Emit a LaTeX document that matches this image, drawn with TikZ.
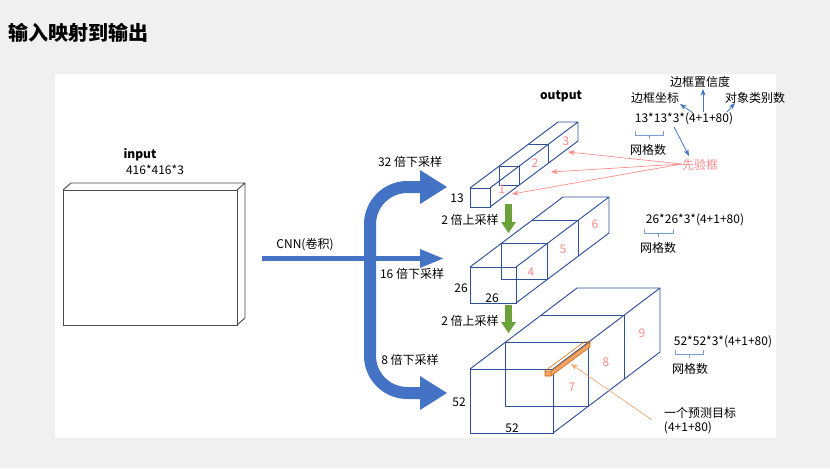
\documentclass[tikz,border=0pt]{standalone}
\usepackage{fontspec}
\setmainfont{Noto Sans CJK SC}
\usetikzlibrary{arrows.meta,calc}
\definecolor{bl}{HTML}{2F4F9A}
\definecolor{ab}{HTML}{4472C4}
\definecolor{pk}{HTML}{FF8A8A}
\definecolor{gr}{HTML}{6AA13A}
\definecolor{org}{HTML}{F4A46A}
\newcommand\mycub[6]{% x0 y0 x1 y1 dx dy
 \draw[box] (#1,#2) rectangle (#3,#4);
 \draw[box] (#1,#2) -- ++(#5,#6) -- ($(#3,#2)+(#5,#6)$) -- ($(#3,#4)+(#5,#6)$) -- (#3,#4) (#3,#2) -- ++(#5,#6);
 \draw[box] ($(#1,#2)+1/3*(#5,#6)$) -- ($(#3,#2)+1/3*(#5,#6)$) -- ($(#3,#4)+1/3*(#5,#6)$)
            ($(#1,#2)+2/3*(#5,#6)$) -- ($(#3,#2)+2/3*(#5,#6)$) -- ($(#3,#4)+2/3*(#5,#6)$);
 \draw[box] ($(#1,#2)+1/3*(#5,#6)$) -- ($(#1,#4)+1/3*(#5,#6)$) -- ($(#3,#4)+1/3*(#5,#6)$);
}
\begin{document}
\begin{tikzpicture}[x=0.75pt,y=-0.75pt,
  t/.style={font=\fontsize{9}{10}\selectfont,inner sep=0pt},
  num/.style={t,text=pk},
  box/.style={draw=bl,line width=0.7pt},
  ba/.style={-{Stealth[length=5pt]},ab,line width=0.6pt},
  pa/.style={-{Stealth[length=5pt]},pk,line width=0.5pt},
  br/.style={ab!70,line width=0.5pt}]
\useasboundingbox (0,0) rectangle (830,468);
\fill[gray!12] (0,0) rectangle (830,468);
\fill[white] (55,74) rectangle (776,438);
\node[font=\fontsize{15}{17}\selectfont\bfseries,anchor=west,inner sep=0pt] (title) at (8,33) {输入映射到输出};
% input
\draw[box,draw=black!70] (63,190) rectangle (237,325);
\draw[box,draw=black!70] (63,190) -- (71,183) -- (245,183) -- (245,318) -- (237,325) (237,190) -- (245,183);
\node[t,font=\fontsize{9}{10}\selectfont\bfseries] (in) at (140,155) {input};
\node[t] (ins) at (155,170) {416*416*3};
% CNN arrow
\fill[ab] (262,256) rectangle (422,261);
\fill[ab] (420,249) -- (443,258.5) -- (420,268) -- cycle;
\node[t] (cnn) at (305,245) {CNN(卷积)};
% big curved arrow
\draw[ab,line width=9pt,rounded corners=28] (422,187) -- (370,187) -- (370,393) -- (422,393);
\fill[ab] (420,170) -- (447,187) -- (420,204) -- cycle;
\fill[ab] (420,376) -- (447,393) -- (420,410) -- cycle;
\node[t] (d32) at (410,162) {32 倍下采样};
\node[t] (d16) at (412,274) {16 倍下采样};
\node[t] (d8) at (410,360) {8 倍下采样};
% cuboids
\mycub{470}{188}{490}{207}{88}{-66}
\mycub{470}{267}{516}{303}{93}{-70}
\mycub{470}{369}{553}{433}{107}{-81}
% orange bar
\filldraw[fill=org,draw=orange!80!black,line width=0.4pt] (545,371) -- (551,371) -- (590,342) -- (590,347) -- (551,376) -- (545,376) -- cycle;
\draw[orange!80!black,line width=0.4pt] (551,371) -- (551,376) (545,371) -- (584,342) -- (590,342);
% numbers
\node[num] (n1) at (502,189) {1};
\node[num] (n2) at (535,163) {2};
\node[num] (n3) at (566,141) {3};
\node[num] (n4) at (531,272) {4};
\node[num] (n5) at (563,249) {5};
\node[num] (n6) at (595,224) {6};
\node[num] (n7) at (572,387) {7};
\node[num] (n8) at (606,362) {8};
\node[num] (n9) at (642,333) {9};
% sizes
\node[t] (s13) at (457,198) {13};
\node[t] (s26a) at (461,288) {26};
\node[t] (s26b) at (492,298) {26};
\node[t] (s52a) at (459,402) {52};
\node[t] (s52b) at (512,428) {52};
% green arrows
\fill[gr] (505,204) rectangle (512,223); \fill[gr] (501,222) -- (516,222) -- (508.5,233) -- cycle;
\fill[gr] (505,305) rectangle (512,323); \fill[gr] (501,322) -- (516,322) -- (508.5,333) -- cycle;
\node[t] (u1) at (470,220) {2 倍上采样};
\node[t] (u2) at (470,321) {2 倍上采样};
% annotations
\node[t,font=\fontsize{9}{10}\selectfont\bfseries] (out) at (561,96) {output};
\node[t] (conf) at (700,82) {边框置信度};
\node[t] (coord) at (655,98) {边框坐标};
\node[t] (cls) at (755,98) {对象类别数};
\node[t] (f13) at (684,119) {13*13*3*(4+1+80)};
\draw[ba] (693,113) -- (680,104);
\draw[ba] (703,112) -- (703,89);
\draw[ba] (727,112) -- (735,103);
\draw[br] (635,131) -- (635,135) -- (663,135) -- (663,131) (649,135) -- (649,139);
\node[t] (g13) at (648,150) {网格数};
\node[t,text=pk] (prior) at (700,165) {先验框};
\draw[ba] (674,127) -- (689,156);
\draw[pa] (682,164) -- (568,152);
\draw[pa] (682,164) -- (551,172);
\draw[pa] (682,164) -- (512,194);
\node[t] (f26) at (695,220) {26*26*3*(4+1+80)};
\draw[br] (644,229) -- (644,233) -- (673,233) -- (673,229) (658,233) -- (658,237);
\node[t] (g26) at (658,248) {网格数};
\node[t] (f52) at (723,342) {52*52*3*(4+1+80)};
\draw[br] (675,350) -- (675,354) -- (703,354) -- (703,350) (689,354) -- (689,358);
\node[t] (g52) at (690,369) {网格数};
\node[t] (tgt) at (700,413) {一个预测目标};
\node[t] (tgt2) at (688,428) {(4+1+80)};
\draw[-{Stealth[length=5pt]},org,line width=0.5pt] (652,420) -- (571,364);
\end{tikzpicture}
\end{document}
